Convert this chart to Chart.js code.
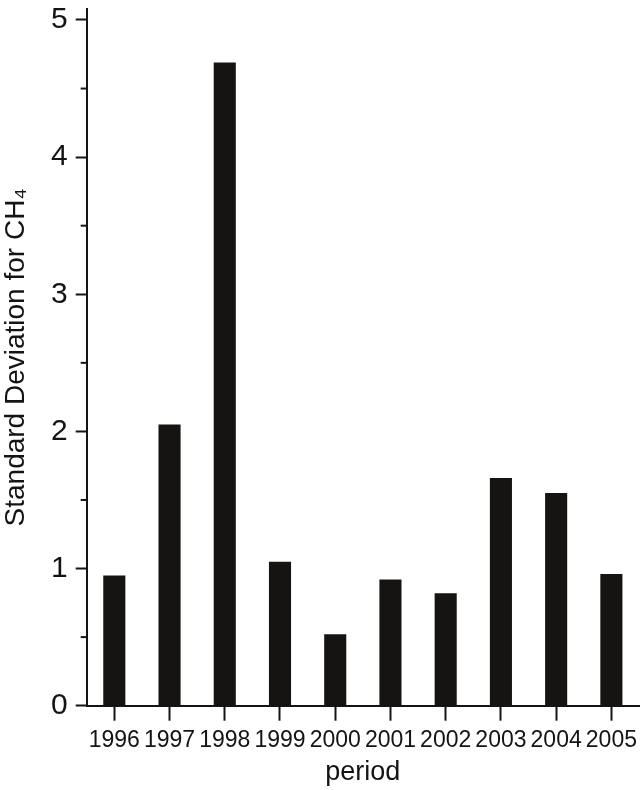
<!DOCTYPE html>
<html lang="en">
<head>
    <meta charset="UTF-8" />
    <title>Standard Deviation for CH4 by period</title>
    <script src="https://cdn.jsdelivr.net/npm/chart.js"></script>
    <style>
        html, body { margin: 0; padding: 0; background: #fff; }
        #wrap { width: 640px; height: 790px; position: relative; }
    </style>
</head>
<body>
    <div id="wrap"><canvas id="sdChart"></canvas></div>

    <script>
        // values
        const years = ["1996", "1997", "1998", "1999", "2000", "2001", "2002", "2003", "2004", "2005"];
        const stdDev = [0.95, 2.05, 4.69, 1.05, 0.52, 0.92, 0.82, 1.66, 1.55, 0.96];
        const minorTicks = [0.5, 1.5, 2.5, 3.5, 4.5];

        const ink = "#161412";
        const fontFamily = "'Liberation Sans', Arial, sans-serif";

        // small ticks between the labelled ones on the y axis
        const minorTickPlugin = {
            id: "minorTicks",
            afterDraw(chart) {
                const y = chart.scales.y;
                const ctx = chart.ctx;
                ctx.save();
                ctx.strokeStyle = ink;
                ctx.lineWidth = 2;
                minorTicks.forEach(v => {
                    const py = y.getPixelForValue(v);
                    ctx.beginPath();
                    ctx.moveTo(y.right - 6, py);
                    ctx.lineTo(y.right, py);
                    ctx.stroke();
                });
                ctx.restore();
            }
        };

        const ctx = document.getElementById("sdChart").getContext("2d");
        new Chart(ctx, {
            type: "bar",
            data: {
                labels: years,
                datasets: [{
                    label: "Standard Deviation for CH4",
                    data: stdDev,
                    backgroundColor: ink,
                    borderWidth: 0,
                    categoryPercentage: 1,
                    barPercentage: 0.4
                }]
            },
            options: {
                responsive: true,
                maintainAspectRatio: false,
                animation: false,
                layout: { padding: { left: 0, right: 1, top: 9, bottom: 0 } },
                plugins: {
                    legend: { display: false },
                    tooltip: { enabled: false }
                },
                scales: {
                    x: {
                        grid: {
                            offset: false,
                            drawOnChartArea: false,
                            drawTicks: true,
                            tickLength: 15,
                            tickWidth: 2,
                            tickColor: ink
                        },
                        border: { display: true, color: ink, width: 2 },
                        ticks: {
                            color: ink,
                            padding: 0,
                            maxRotation: 0,
                            autoSkip: false,
                            // tall line box pushes the labels down without adding side padding
                            font: { family: fontFamily, size: 23, lineHeight: 1.74 }
                        },
                        title: {
                            display: true,
                            text: "period",
                            color: ink,
                            padding: { top: 0, bottom: 5 },
                            font: { family: fontFamily, size: 27, lineHeight: 0.9 }
                        }
                    },
                    y: {
                        min: 0,
                        max: 5.08,
                        grid: {
                            drawOnChartArea: false,
                            drawTicks: true,
                            tickLength: 11,
                            tickWidth: 2,
                            tickColor: ink
                        },
                        border: { display: true, color: ink, width: 2 },
                        ticks: {
                            stepSize: 1,
                            includeBounds: false,
                            color: ink,
                            padding: 8,
                            // tiny line box so the top label does not push the plot down
                            font: { family: fontFamily, size: 30, lineHeight: 0.05 }
                        },
                        title: {
                            display: true,
                            text: "Standard Deviation for CH\u2084",
                            color: ink,
                            padding: { top: 2, bottom: 13 },
                            font: { family: fontFamily, size: 28, lineHeight: 1 }
                        }
                    }
                }
            },
            plugins: [minorTickPlugin]
        });
    </script>
</body>
</html>
